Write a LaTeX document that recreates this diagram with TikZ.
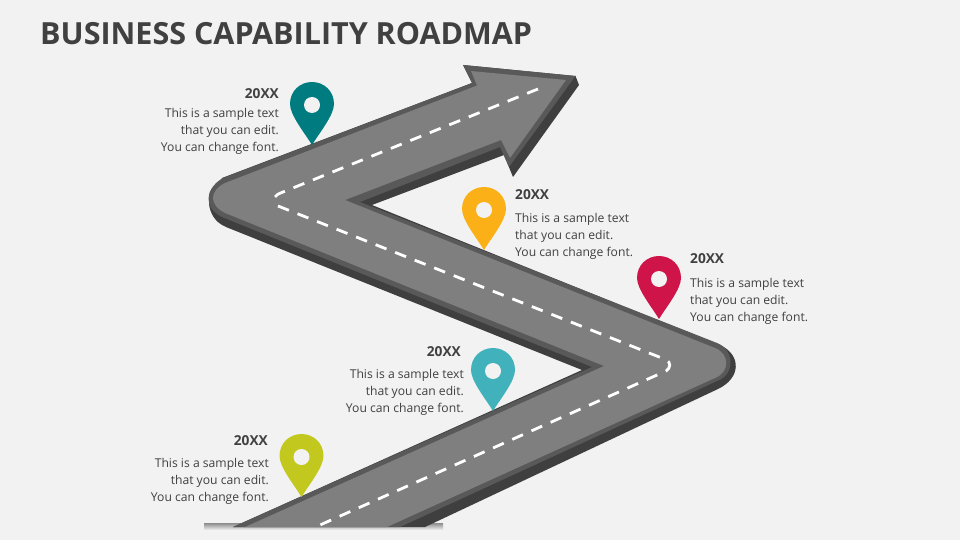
\documentclass[tikz,border=0pt]{standalone}
\usepackage{fontspec}
\setmainfont{Open Sans}
\definecolor{bgc}{HTML}{F2F2F2}
\definecolor{txt}{HTML}{404040}
\definecolor{roadtop}{HTML}{7F7F7F}
\definecolor{roadedge}{HTML}{595959}
\definecolor{roaddark}{HTML}{3F3F3F}
\definecolor{stripc}{HTML}{8C8C8C}
\definecolor{pinteal}{HTML}{007C80}
\definecolor{pinyellow}{HTML}{FBB017}
\definecolor{pinred}{HTML}{CF1449}
\definecolor{pincyan}{HTML}{41B1BB}
\definecolor{pinolive}{HTML}{C3C81F}
\newcommand{\pinmark}[3]{%
  \fill[#3] (#1,#2+63) .. controls (#1-8,#2+50) and (#1-22,#2+33) .. (#1-22,#2+22)
    .. controls (#1-22,#2+9) and (#1-12,#2) .. (#1,#2)
    .. controls (#1+12,#2) and (#1+22,#2+9) .. (#1+22,#2+22)
    .. controls (#1+22,#2+33) and (#1+8,#2+50) .. (#1,#2+63) -- cycle;
  \fill[bgc] (#1,#2+23) circle (8);
}
\tikzset{
  x=1pt,y=-1pt,
  heading/.style={font=\fontsize{13.7}{17}\selectfont\bfseries,text=txt,inner sep=0pt},
  bodyr/.style={font=\fontsize{12.15}{17}\selectfont,text=txt,inner sep=0pt,align=right,anchor=east},
  bodyl/.style={font=\fontsize{12.15}{17}\selectfont,text=txt,inner sep=0pt,align=left,anchor=west},
  centreline/.style={white,line width=2.8pt,dash pattern=on 11.7pt off 9.3pt},
}
\begin{document}
\begin{tikzpicture}
\useasboundingbox (0,0) rectangle (960,540);
\fill[bgc] (0,0) rectangle (960,540);
\node[font=\fontsize{30.5}{38}\selectfont\bfseries,text=txt,inner sep=0pt,anchor=west] (title) at (40,33.5) {BUSINESS CAPABILITY ROADMAP};
% base shadow strip
\shade[top color=stripc,bottom color=bgc] (204,523) rectangle (443,530);
% road layers
\fill[roaddark] (575.5,76) -- (579,85) -- (513,177) -- (504,155) -- (372,205) -- (722,346)
  .. controls (741,356) and (741,378) .. (718,389) -- (425,527) -- (233,527) -- (582,370)
  -- (226,227) .. controls (214,222) and (210,212) .. (209,204) -- (222,178) -- (472,83) -- (463,65) -- cycle;
\fill[roadedge] (233,527) -- (592,367) -- (222,217)
  .. controls (204,208) and (204,190) .. (222,178.5) -- (472,83) -- (463,65) -- (575.5,76)
  -- (509,167) -- (500,147) -- (360,202) -- (717,343)
  .. controls (735,350) and (735,375) .. (717,381) -- (400,527) -- cycle;
\fill[roadtop] (245,527) -- (604,366) -- (225,213)
  .. controls (209,205) and (209,191) .. (225,183) -- (477,85.5) -- (471,71) -- (566,80)
  -- (510,158) -- (501,140) -- (345,200) -- (715,348)
  .. controls (730,354) and (730,372) .. (715,378) -- (387,527) -- cycle;
% centre line
\draw[centreline] (538,89) -- (283,192) .. controls (278,194) and (276,195) .. (275,197);
\draw[centreline] (278,206) -- (666,359.7) .. controls (671,362) and (671,368) .. (666,371) -- (320,525);
% pins
\pinmark{312}{82}{pinteal}
\pinmark{484}{187}{pinyellow}
\pinmark{659}{256}{pinred}
\pinmark{493}{348}{pincyan}
\pinmark{301.5}{434}{pinolive}
% texts
\node[heading,anchor=east] (h1) at (279,94) {20XX};
\node[bodyr] (b1) at (279,131.5) {This is a sample text\\that you can edit.\\You can change font.};
\node[heading,anchor=west] (h2) at (515,195) {20XX};
\node[bodyl] (b2) at (515,236.5) {This is a sample text\\that you can edit.\\You can change font.};
\node[heading,anchor=west] (h3) at (690,259) {20XX};
\node[bodyl] (b3) at (690,301.5) {This is a sample text\\that you can edit.\\You can change font.};
\node[heading,anchor=east] (h4) at (461,352) {20XX};
\node[bodyr] (b4) at (464,392.5) {This is a sample text\\that you can edit.\\You can change font.};
\node[heading,anchor=east] (h5) at (268,441) {20XX};
\node[bodyr] (b5) at (269,481.5) {This is a sample text\\that you can edit.\\You can change font.};
\end{tikzpicture}
\end{document}
